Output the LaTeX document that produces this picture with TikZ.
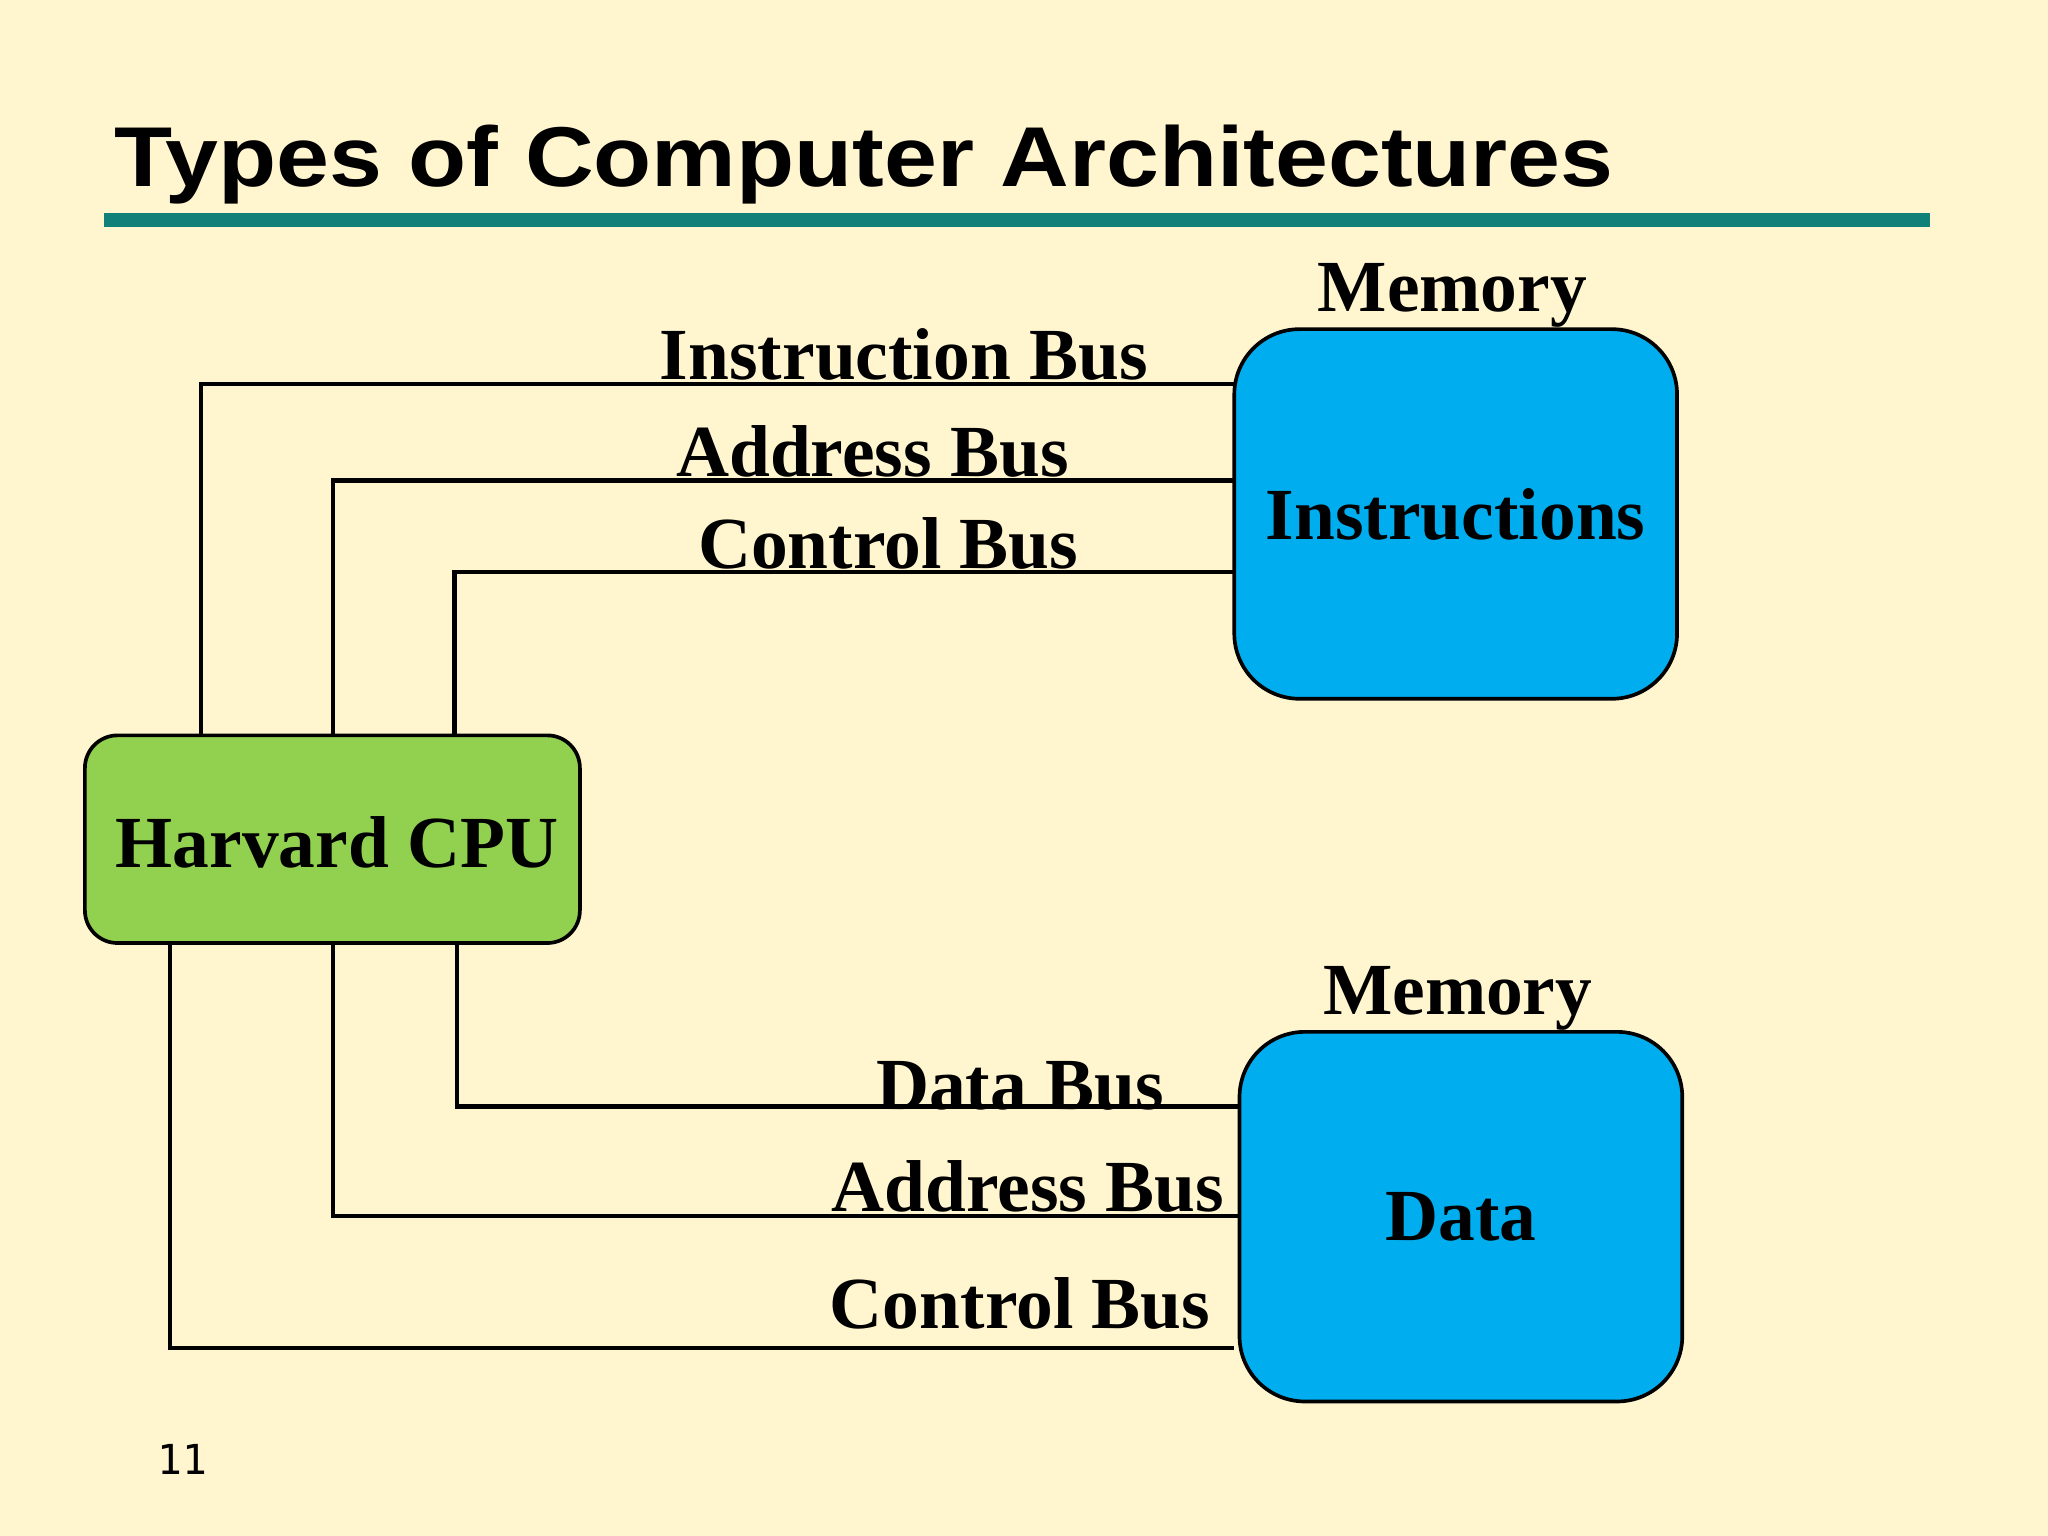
\documentclass[tikz,border=0pt]{standalone}
\usepackage{fontspec}
\setmainfont{Liberation Serif}
\newfontfamily\titlefont{Liberation Sans}
\newfontfamily\numfont{DejaVu Sans Mono}
\definecolor{bg}{HTML}{FFF6D0}
\definecolor{teal1}{HTML}{108078}
\definecolor{memblue}{HTML}{00AEEF}
\definecolor{cpugreen}{HTML}{92D050}
\begin{document}
\begin{tikzpicture}[x=0.1mm,y=-0.1mm,
  mem/.style={draw=black,line width=0.8pt,fill=memblue,rounded corners=5mm,minimum width=33.9mm,minimum height=28.3mm,inner sep=0pt},
  cpu/.style={draw=black,line width=0.8pt,fill=cpugreen,rounded corners=2.5mm,minimum width=37.9mm,minimum height=15.9mm,inner sep=0pt},
  lbl/.style={font=\fontsize{16}{18}\selectfont\bfseries,inner sep=0pt},
  bus/.style={line width=1pt}]
\fill[bg] (0,0) rectangle (1568,1176);
\useasboundingbox (0,0) rectangle (1568,1176);
\node[font=\titlefont\fontsize{18.5}{20}\selectfont\bfseries,anchor=west,inner sep=0pt,xscale=1.12] (title) at (87,126) {Types of Computer Architectures};
\fill[teal1] (80,163) rectangle (1478,174);
\node[mem] (m1) at (1114.5,393.5) {};
\node[lbl] at (m1) {Instructions};
\node[lbl] (m1l) at (1112,226) {Memory};
\node[mem] (m2) at (1118.5,931.5) {};
\node[lbl] at (m2) {Data};
\node[lbl] (m2l) at (1116,764) {Memory};
\node[cpu] (cpu) at (254.5,642.5) {};
\node[lbl] at (258,645) {Harvard CPU};
\coordinate (a1) at (154,563); \coordinate (b1) at (945,294);
\coordinate (a2) at (255,563); \coordinate (b2) at (945,368);
\coordinate (a3) at (348,563); \coordinate (b3) at (945,438);
\coordinate (a4) at (350,722); \coordinate (b4) at (949,847);
\coordinate (a5) at (255,722); \coordinate (b5) at (949,931);
\coordinate (a6) at (130,722); \coordinate (b6) at (945,1032);
\foreach \i in {1,...,6} \draw[bus] (a\i) |- (b\i);
\node[lbl] at (692,271) {Instruction Bus};
\node[lbl] at (668,346) {Address Bus};
\node[lbl] at (680,416) {Control Bus};
\node[lbl] at (781,831) {Data Bus};
\node[lbl] at (787,908) {Address Bus};
\node[lbl] at (781,998) {Control Bus};
\node[font=\numfont\fontsize{9}{10}\selectfont,inner sep=0pt] (pg) at (140,1117) {11};
\end{tikzpicture}
\end{document}
